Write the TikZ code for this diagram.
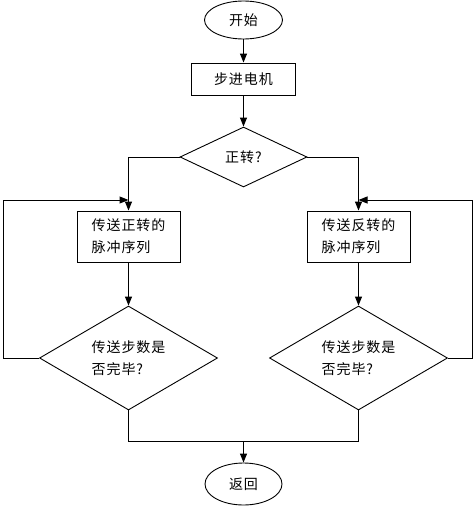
\documentclass[tikz,border=0pt]{standalone}
\usepackage{fontspec}
\newfontfamily\cjk[LetterSpace=7]{Noto Sans CJK SC}
\usetikzlibrary{shapes.geometric,arrows.meta}
\begin{document}
\begin{tikzpicture}[x=1pt,y=-1pt,
  every node/.style={font=\cjk\fontsize{14}{22}\selectfont},
  term/.style={ellipse,draw,line width=0.9pt,minimum width=78pt,minimum height=38pt,inner sep=0pt},
  proc/.style={rectangle,draw,line width=0.9pt,inner sep=0pt,align=left},
  dec/.style={diamond,draw,line width=0.9pt,inner sep=0pt,align=left,aspect=1.7},
  conn/.style={line width=1pt},
  arr/.style={line width=1pt,-{Triangle[length=9pt,width=7pt]}}]
\path[use as bounding box] (0,0) rectangle (474,506);
\node[term] (start) at (243.5,20) {开始};
\node[proc,minimum width=104pt,minimum height=32pt] (motor) at (243.5,79) {步进电机};
\node[dec,minimum width=127pt,minimum height=60pt] (q) at (243.5,157) {正转?};
\node[proc,minimum width=103pt,minimum height=51pt] (lbox) at (128.5,236.5) {传送正转的\\脉冲序列};
\node[proc,minimum width=103pt,minimum height=51pt] (rbox) at (358.5,236.5) {传送反转的\\脉冲序列};
\node[dec,minimum width=178pt,minimum height=104pt] (ldec) at (128.5,358) {传送步数是\\否完毕?};
\node[dec,minimum width=178pt,minimum height=104pt] (rdec) at (358.5,358) {传送步数是\\否完毕?};
\node[term,minimum height=42pt,minimum width=77pt] (ret) at (243.5,484) {返回};
\coordinate (lloop) at (3,200);
\coordinate (lt) at (128.5,200);
\coordinate (rloop) at (472,200);
\coordinate (rt) at (358.5,200);
\coordinate (mid) at (243.5,441);
\draw[arr] (start) -- (motor);
\draw[arr] (motor) -- (q);
\draw[arr] (q.west) -| (lbox.north);
\draw[arr] (q.east) -| (rbox.north);
\draw[arr] (lbox) -- (ldec);
\draw[arr] (rbox) -- (rdec);
\draw[arr] (ldec.west) -| (lloop) -- (lt);
\draw[arr] (rdec.east) -| (rloop) -- (rt);
\draw[conn] (ldec.south) |- (mid);
\draw[conn] (rdec.south) |- (mid);
\draw[arr] (mid) -- (ret.north);
\end{tikzpicture}
\end{document}
